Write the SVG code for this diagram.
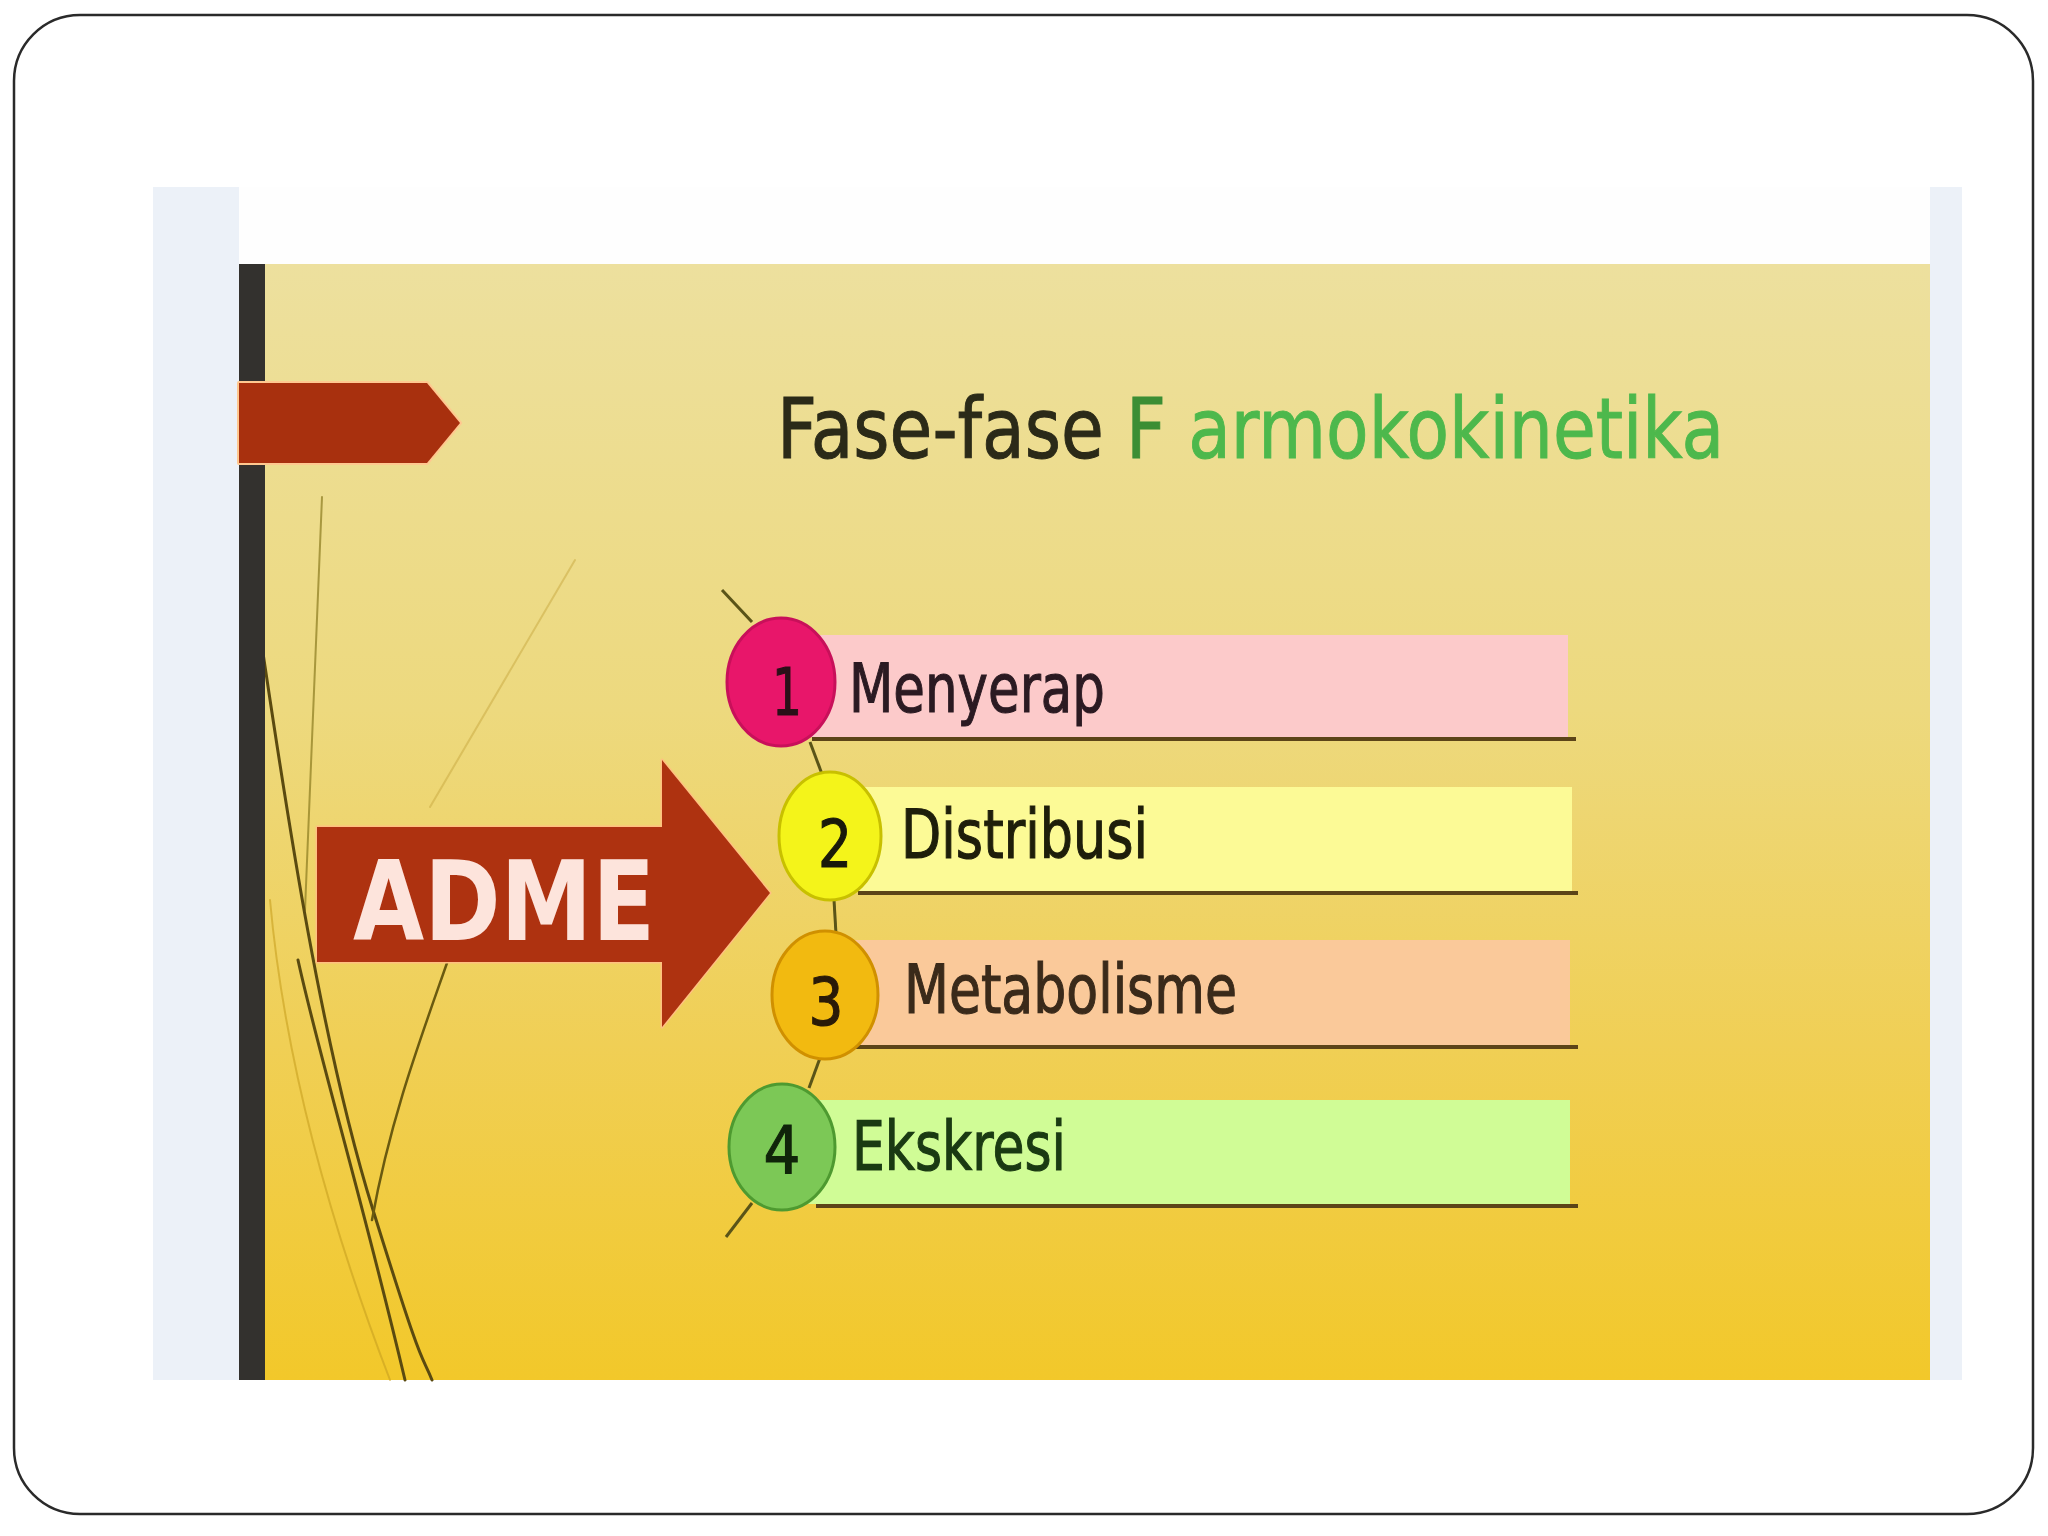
<svg xmlns="http://www.w3.org/2000/svg" width="2048" height="1536" viewBox="0 0 2048 1536">
  <defs>
    <linearGradient id="slideBg" x1="0" y1="0" x2="0" y2="1">
      <stop offset="0" stop-color="#EDE09E"/>
      <stop offset="0.4" stop-color="#EDD97E"/>
      <stop offset="0.7" stop-color="#F0CF55"/>
      <stop offset="1" stop-color="#F2C82A"/>
    </linearGradient>
    <style>
      .lbl { font-family: "DejaVu Sans", "Liberation Sans", sans-serif; font-size: 68px; stroke-width: 1.2px; }
      .num { font-family: "DejaVu Sans", "Liberation Sans", sans-serif; font-size: 66px; text-anchor: middle; stroke-width: 1.2px; }
      .title { font-family: "DejaVu Sans", "Liberation Sans", sans-serif; font-size: 84px; stroke-width: 1px; }
      .baseline { stroke: #5C4418; stroke-width: 4; }
      .string { stroke: #5A5418; stroke-width: 3; fill: none; }
      .deco { fill: none; stroke-linecap: round; }
    </style>
  </defs>

  <!-- outer frame -->
  <rect x="14" y="15" width="2019" height="1499" rx="66" ry="66" fill="#FFFFFF" stroke="#2A2A2A" stroke-width="2.5"/>

  <!-- picture frame -->
  <rect x="153" y="187" width="1809" height="1193" fill="#ECF1F8"/>
  <rect x="239" y="187" width="1691" height="77" fill="#FEFEFE"/>
  <rect x="239" y="264" width="1691" height="1116" fill="url(#slideBg)"/>

  <!-- decorative strokes -->
  <g id="decor">
    <path class="deco" d="M 322 497 C 318 600, 312 750, 305 910" stroke="#8A7A20" stroke-width="2" opacity="0.7"/>
    <path class="deco" d="M 270 900 Q 290 1120 390 1380" stroke="#C8A020" stroke-width="2" opacity="0.6"/>
    <path class="deco" d="M 575 560 L 430 807" stroke="#C8A840" stroke-width="2" opacity="0.5"/>
    <path class="deco" d="M 263 653 C 285 800, 320 1040, 373 1210 S 420 1350, 432 1380" stroke="#5A4A10" stroke-width="3"/>
    <path class="deco" d="M 298 960 C 320 1060, 360 1190, 405 1380" stroke="#5A4A10" stroke-width="3"/>
    <path class="deco" d="M 447 963 C 420 1040, 390 1120, 372 1220" stroke="#6A5A10" stroke-width="2.5"/>
  </g>

  <!-- dark vertical bar -->
  <rect x="239" y="264" width="26" height="1116" fill="#33312E"/>

  <!-- small tag -->
  <g id="tag">
    <polygon points="239,383 427,383 460,423 427,463 239,463" fill="#A8300E" stroke="#FFC890" stroke-width="4" paint-order="stroke" stroke-linejoin="round"/>
  </g>

  <!-- title -->
  <g id="title">
    <text class="title" transform="translate(777,458) scale(0.829,1)" x="0" y="0"><tspan fill="#2B2A18" stroke="#2B2A18">Fase-fase</tspan> <tspan fill="#3C8E34" stroke="#3C8E34">F</tspan> <tspan fill="#4DB84C" stroke="#4DB84C">armokokinetika</tspan></text>
  </g>

  <!-- ADME arrow -->
  <g id="adme">
    <polygon points="317,827 662,827 662,760 770,893 662,1027 662,962 317,962" fill="#AE3210" stroke="#FFC080" stroke-width="3" paint-order="stroke" stroke-linejoin="round"/>
    <text x="353" y="940" font-family="DejaVu Sans, Liberation Sans, sans-serif" font-size="111" font-weight="bold" fill="#FDE4DC" textLength="302" lengthAdjust="spacingAndGlyphs">ADME</text>
  </g>

  <!-- connectors (string linking steps) -->
  <g id="connectors">
    <line class="string" x1="722" y1="590" x2="752" y2="622"/>
    <line class="string" x1="810" y1="742" x2="822" y2="774"/>
    <line class="string" x1="834" y1="900" x2="836" y2="934"/>
    <line class="string" x1="820" y1="1058" x2="809" y2="1088"/>
    <line class="string" x1="752" y1="1203" x2="726" y2="1237"/>
  </g>

  <!-- step 1 -->
  <g id="step1">
    <rect x="790" y="635" width="778" height="102" fill="#FCCACA"/>
    <line class="baseline" x1="812" y1="739" x2="1576" y2="739"/>
    <ellipse cx="781" cy="682" rx="54" ry="64" fill="#E8166A" stroke="#C8105A" stroke-width="3"/>
    <text class="num" x="787" y="715" fill="#2A1018" stroke="#2A1018" textLength="30" lengthAdjust="spacingAndGlyphs">1</text>
    <text class="lbl" x="849" y="712" fill="#2B1A22" stroke="#2B1A22" textLength="256" lengthAdjust="spacingAndGlyphs">Menyerap</text>
  </g>

  <!-- step 2 -->
  <g id="step2">
    <rect x="840" y="787" width="732" height="104" fill="#FCFA96"/>
    <line class="baseline" x1="858" y1="893" x2="1578" y2="893"/>
    <ellipse cx="830" cy="836" rx="51" ry="64" fill="#F4F41A" stroke="#C8C000" stroke-width="3"/>
    <text class="num" x="835" y="867" fill="#1A1A0A" stroke="#1A1A0A" textLength="34" lengthAdjust="spacingAndGlyphs">2</text>
    <text class="lbl" x="901" y="858" fill="#1E1E0A" stroke="#1E1E0A" textLength="247" lengthAdjust="spacingAndGlyphs">Distribusi</text>
  </g>

  <!-- step 3 -->
  <g id="step3">
    <rect x="840" y="940" width="730" height="105" fill="#FAC99A"/>
    <line class="baseline" x1="856" y1="1047" x2="1578" y2="1047"/>
    <ellipse cx="825" cy="995" rx="53" ry="64" fill="#F2BA10" stroke="#D09000" stroke-width="3"/>
    <text class="num" x="826" y="1025" fill="#2A1A08" stroke="#2A1A08" textLength="35" lengthAdjust="spacingAndGlyphs">3</text>
    <text class="lbl" x="904" y="1013" fill="#3A2A1A" stroke="#3A2A1A" textLength="333" lengthAdjust="spacingAndGlyphs">Metabolisme</text>
  </g>

  <!-- step 4 -->
  <g id="step4">
    <rect x="790" y="1100" width="780" height="104" fill="#D0FC96"/>
    <line class="baseline" x1="816" y1="1206" x2="1578" y2="1206"/>
    <ellipse cx="782" cy="1147" rx="53" ry="63" fill="#7CC856" stroke="#4E9A30" stroke-width="3"/>
    <text class="num" x="782" y="1173" fill="#10240A" stroke="#10240A" textLength="37" lengthAdjust="spacingAndGlyphs">4</text>
    <text class="lbl" x="852" y="1170" fill="#1A3A12" stroke="#1A3A12" textLength="214" lengthAdjust="spacingAndGlyphs">Ekskresi</text>
  </g>
</svg>
